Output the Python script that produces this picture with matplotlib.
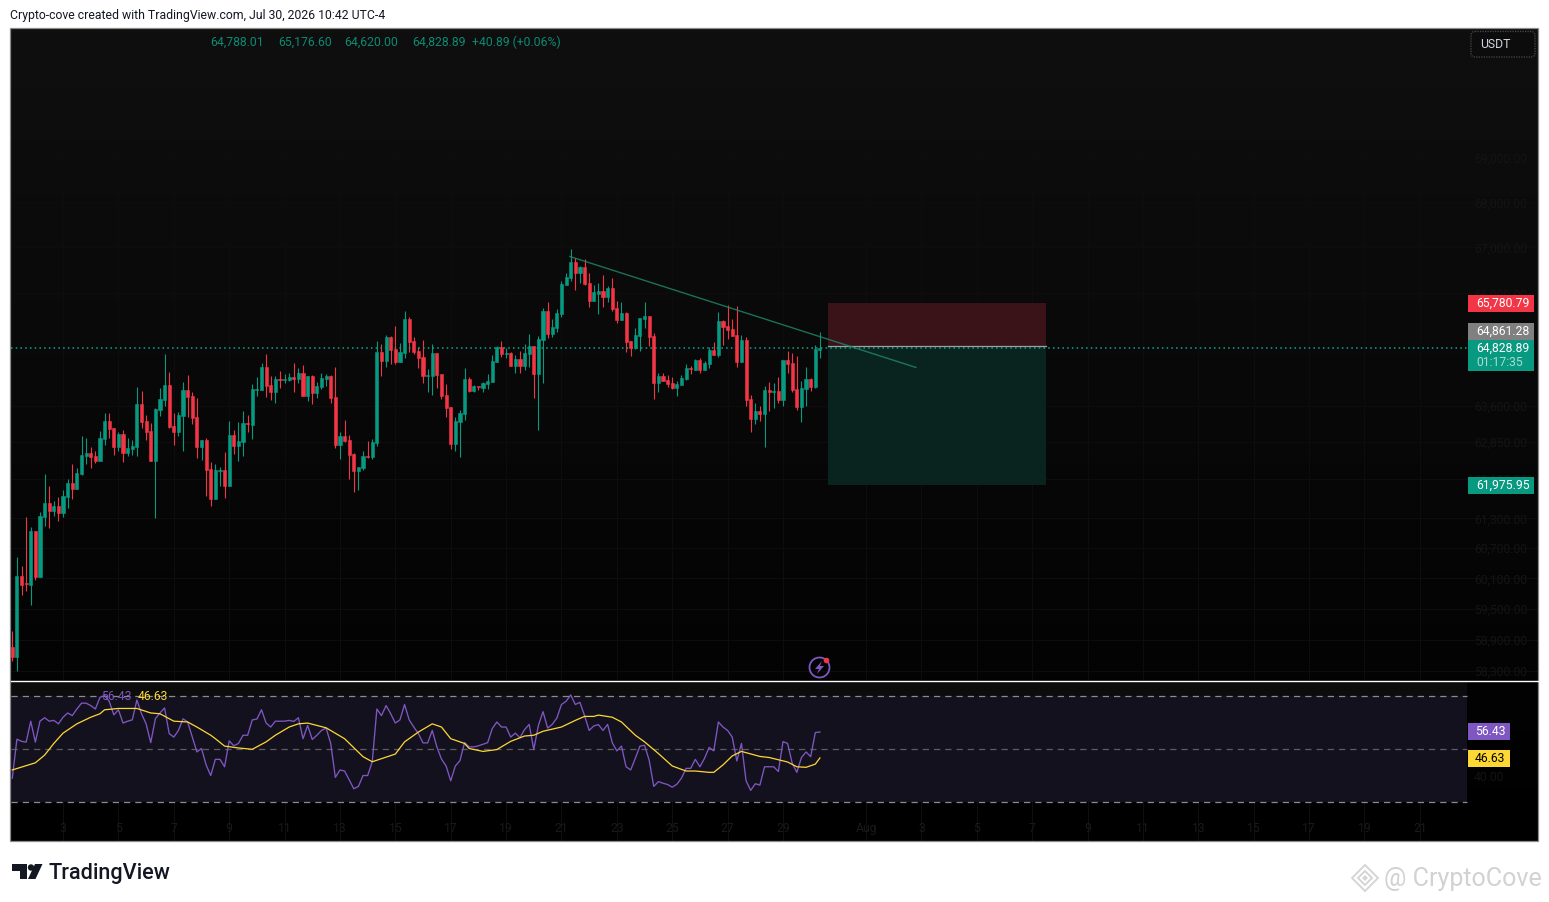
import numpy as np
import matplotlib
matplotlib.use('Agg')
import matplotlib.pyplot as plt
from matplotlib.patches import Rectangle, FancyBboxPatch, Polygon, Circle
from matplotlib.ticker import NullLocator

plt.rcParams['font.family'] = ['Roboto', 'DejaVu Sans']

# 4h candles
opens = [58760,58580,60140,60020,59980,61040,60120,61320,61600,61440,61540,61400,61721,62007,61884,62191,62559,62620,62559,62457,
         62909,63282,63137,62744,63013,62620,62702,62744,63635,63282,63075,62457,63511,63718,64034,63179,63054,63386,63929,63802,
         63365,62744,62888,62293,61680,62253,62273,61946,62992,62764,62847,63241,63200,63929,63929,64413,64034,63886,64160,64139,
         64139,64202,64160,64287,63802,64224,63865,63992,64160,64224,63781,62785,62971,62888,62600,62253,62314,62559,62538,62826,
         64730,64540,65051,64794,64519,64709,65437,64966,64751,64625,64224,64224,64709,64266,63823,63573,62806,63262,63428,64160,
         63908,64013,63971,64055,64097,64519,64837,64688,64709,64435,64582,64435,64688,64858,64266,64987,65609,65115,65244,65544,
         66171,66323,66672,66432,66563,66214,65823,65975,66040,65909,66105,65673,65416,65566,64966,64815,65073,65437,65502,65073,
         64076,64224,64139,64076,63971,64034,64160,64392,64350,64561,64350,64477,64772,64667,65394,65287,65222,65094,64519,64987,
         63739,63324,63490,63428,63929,63886,63908,63718,64561,64498,63950,63573,63950,64160,63992,64788.01]
highs = [59070,60520,60340,61320,61120,61040,61420,62191,61946,61640,61721,61864,62089,62395,62314,62971,62930,62744,62661,63075,
         63448,63448,63137,63054,63096,62930,62888,63992,63908,63407,63241,63552,63971,64688,64308,63448,63469,64097,64245,63886,
         63760,62888,62930,62436,62395,62334,62640,63282,63096,63262,63490,63407,64055,64202,64498,64688,64224,64224,64329,64266,
         64287,64498,64392,64456,64224,64245,64097,64287,64266,64245,64413,63054,63303,62992,62620,62334,62661,62868,62909,64966,
         64901,65094,65073,65287,64923,65609,65480,65051,64837,64987,64371,64901,64709,64266,64055,63573,63365,63511,64392,64202,
         64034,64013,64097,64266,64667,64858,64966,64815,64730,64667,64751,64901,65115,64858,65073,65673,65801,65437,65651,66258,
         66432,66956,66760,66585,66738,66432,66171,66214,66389,66149,66323,65823,65801,65587,64966,65244,65459,65801,65502,65137,
         64287,64287,64245,64202,64118,64245,64477,64435,64582,64603,64540,64837,64944,65587,65416,65737,65437,65716,65094,65051,
         63823,63656,63593,64013,64097,64076,64202,64561,64751,64709,64646,64118,64413,64181,64880,65176.60]
lows = [58490,58310,59770,59860,59570,60080,60120,61140,61100,61340,61240,61320,61500,61680,61884,62171,62395,62314,62416,62457,
        62785,62930,62579,62661,62436,62559,62579,62559,63137,62888,62457,61300,63386,63593,63137,62785,62971,62661,63365,63220,
        62518,62477,61741,61540,61680,61946,61701,61946,62600,62457,62559,63054,62909,63802,63929,63781,63718,63656,63971,64076,
        64118,63886,64076,63802,63697,63635,63760,63950,64013,63656,62723,62497,62847,62089,61823,61864,62273,62518,62497,62764,
        64224,64413,64477,64477,64519,64603,64730,64688,64392,64076,63886,63823,63971,63739,63365,62702,62661,62538,63303,63886,
        63886,63929,63886,63950,64097,64519,64625,64603,64435,64287,64287,64350,64413,63760,63096,64076,65030,65051,65158,65480,
        66171,66258,66062,66214,66171,65694,65823,65544,65694,65801,65609,65351,65416,64730,64646,64794,64751,65244,64858,63739,
        63886,64118,63992,63950,63802,64034,64139,64266,64350,64287,64350,64392,64667,64625,64880,65008,65073,64413,64519,63593,
        63054,63220,63282,62744,63490,63552,63656,63593,64287,63886,63511,63262,63593,63908,63971,64620.00]
closes = [58580,60140,59980,60000,61040,60120,61340,61600,61440,61540,61400,61741,62007,61884,62212,62579,62620,62538,62457,62930,
          63282,63117,62744,63013,62620,62723,62764,63635,63262,63054,62457,63531,63739,64034,63158,63054,63407,63929,63781,63345,
          62744,62888,62273,61680,62273,62273,61946,62992,62764,62868,63241,63220,63950,63950,64413,64013,63886,64160,64139,64160,
          64202,64160,64287,63802,64224,63865,64013,64181,64224,63760,62785,62971,62868,62579,62253,62334,62559,62538,62847,64730,
          64540,65051,64772,64519,64730,65437,64944,64730,64603,64224,64245,64709,64245,63802,63552,62806,63282,63448,64160,63908,
          64013,63992,64076,64118,64540,64837,64688,64709,64435,64582,64435,64709,64858,64266,65008,65609,65115,65265,65566,66193,
          66345,66672,66432,66563,66193,65823,66018,66040,65909,66105,65651,65416,65566,64944,64815,65094,65459,65502,65051,64076,
          64224,64118,64055,63971,64055,64181,64392,64371,64561,64350,64498,64772,64667,65394,65265,65201,65073,64519,64987,63718,
          63324,63490,63428,63929,63886,63908,63718,64561,64477,63929,63573,63971,64160,63992,64794,64828.89]

rsi_values = [39.0,53.7,52.9,52.6,60.5,52.6,60.5,61.8,60.5,60.8,59.5,62.0,63.6,62.6,65.1,67.3,67.3,66.4,65.1,69.5,
              70.2,68.0,62.9,64.8,59.8,60.5,61.0,68.5,63.3,59.5,52.4,61.4,63.6,65.5,55.8,54.5,57.0,61.4,60.2,54.5,
              48.9,50.2,44.0,40.0,46.1,46.1,43.3,53.1,51.2,52.1,55.2,55.2,61.0,61.3,64.8,59.8,58.3,60.5,60.5,60.5,
              60.8,60.4,61.8,53.9,58.9,53.6,55.2,57.0,57.9,52.1,39.3,42.1,41.7,38.4,35.0,35.9,40.0,40.0,45.2,65.1,
              62.6,66.4,63.3,59.8,61.0,66.8,61.0,58.3,55.8,52.3,52.3,57.0,50.8,46.2,43.6,38.0,43.6,45.6,52.4,50.8,
              50.8,51.2,51.8,52.4,57.7,60.2,58.3,58.3,54.5,56.0,54.3,57.3,59.3,49.8,58.9,64.1,57.9,59.3,61.7,66.8,
              68.0,70.4,66.8,67.6,62.6,57.0,58.7,59.2,57.0,59.3,52.4,49.3,51.1,43.3,42.1,46.5,51.1,51.4,45.8,35.9,
              37.7,37.1,36.6,35.6,36.7,39.0,42.7,42.7,46.1,43.3,46.5,50.6,49.3,60.2,58.3,57.0,54.5,45.5,52.1,38.0,
              34.4,36.9,36.4,43.3,43.3,43.3,41.5,52.8,52.1,44.6,41.2,46.8,48.9,47.1,56.2,56.43]

# the yellow moving average, read at its bends
ma_index = [0,5,7,9,11,14,17,19,20,23,27,30,32,35,38,40,43,44,46,49,52,55,57,60,62,64,68,72,76,78,83,85,88,
            91,93,95,98,99,102,105,108,111,113,115,119,122,124,126,127,130,132,135,137,140,143,146,148,151,152,
            154,156,158,162,164,168,170,172,174,175]
ma_values = [42.1,44.8,47.7,52.1,56.0,59.5,62.0,63.3,64.8,65.3,65.3,63.6,63.3,60.5,60.2,58.3,55.2,53.9,51.1,50.4,49.9,52.7,55.2,58.3,59.5,59.8,58.0,53.9,47.1,45.2,48.1,52.7,56.4,
             59.5,58.3,53.9,52.1,50.2,49.1,49.8,52.9,54.9,55.2,56.7,58.3,60.8,62.3,62.3,62.8,62.0,60.2,55.2,52.7,48.3,43.6,41.7,41.7,41.2,41.2,
             44.0,47.4,49.1,47.2,46.8,45.1,43.3,43.1,44.3,46.63]

stop_price = 65780.79
entry_price = 64861.28
target_price = 61975.95
last_price = 64828.89

price_ticks = [69000,68000,67000,66000,63600,62850,62100,61300,60700,60100,59500,58900,58300]
date_ticks = [11,23,35,47,59,71,83,95,107,119,131,143,155,167,185,197,209,221,233,245,257,269,281,293,305]
date_labels = ['3','5','7','9','11','13','15','17','19','21','23','25','27','29','Aug','3','5','7','9','11','13','15','17','19','21']

UP = '#089981'
DOWN = '#f23645'
FAINT = '#141414'
W, H = 1549, 902
X0, X1 = 11, 1538

fig = plt.figure(figsize=(W/100, H/100), dpi=100, facecolor='white')

def pane(top, bottom):
    return [X0/W, (H-bottom)/H, (X1-X0)/W, (bottom-top)/H]

# background gradient
bg = fig.add_axes(pane(28, 841))
grad = np.linspace(15, 0, 256).reshape(-1, 1)
bg.imshow(grad, aspect='auto', cmap='gray', vmin=0, vmax=255, interpolation='bilinear')
bg.axis('off')

ax = fig.add_axes(pane(28, 680), facecolor='none')
xlim = (-0.28, 330.6)
idx = np.arange(len(closes))
o, h, l, c = map(np.array, (opens, highs, lows, closes))
col = np.where(c >= o, UP, DOWN)

ax.vlines(idx, l, h, colors=col, linewidth=0.8, zorder=3)
ax.bar(idx, np.abs(c-o), bottom=np.minimum(o, c), width=0.68, color=col, linewidth=0.4, edgecolor=col, zorder=4)

ax.set_yscale('log')
ax.set_xlim(*xlim)
ax.set_ylim(58130, 72007)
ax.yaxis.tick_right()
ax.set_yticks(price_ticks, [f'{p:,.2f}' for p in price_ticks])
ax.yaxis.set_minor_locator(NullLocator())
ax.tick_params(axis='y', length=0, pad=-46, labelsize=8.7, labelcolor=FAINT)
ax.set_xticks(date_ticks, [''] * len(date_ticks))
ax.tick_params(axis='x', length=0)
ax.grid(True, color='#0e0e0e', linewidth=0.7, zorder=0)
ax.set_axisbelow(True)
for s in ax.spines.values():
    s.set_visible(False)

# long/short position box
box_l, box_r = 176.75, 224
ax.fill_between([box_l, box_r], entry_price, stop_price, color='#3a1318', linewidth=0, zorder=2)
ax.fill_between([box_l, box_r], target_price, entry_price, color='#09241f', linewidth=0, zorder=2)
ax.plot([box_l, box_r], [entry_price, entry_price], color='#a0a0a0', linewidth=0.9, zorder=5)

# trend line and last price
ax.plot([120.8, 195.8], [66803, 64413], color='#1f8a6c', alpha=0.8, linewidth=1.0, zorder=6)
ax.plot([xlim[0], 315.2], [last_price, last_price], color='#0aa88e', linewidth=1.1, linestyle=(0, (1, 2.1)), zorder=3)

# RSI pane
rs = fig.add_axes(pane(681, 841), facecolor='none')
rs.set_xlim(*xlim)
rs.set_ylim(15.3, 75.66)
rs.fill_between([xlim[0], 315.2], 30, 70, color='#14111e', linewidth=0, zorder=1)
rs.fill_between([xlim[0], 315.2], 70, 75.66, color='#0c0c0c', linewidth=0, zorder=1)
for lev, shade in ((70, '#8a8a90'), (50, '#5c5c64'), (30, '#8a8a90')):
    rs.plot([xlim[0], 315.2], [lev, lev], color=shade, linewidth=0.9, linestyle=(0, (5, 4)), zorder=2)
rs.plot(idx, rsi_values, color='#7e57c2', linewidth=0.95, zorder=4)
rs.plot(ma_index, ma_values, color='#fdd835', linewidth=0.9, zorder=5)
rs.yaxis.tick_right()
rs.set_yticks([40], ['40.00'])
rs.tick_params(axis='y', length=0, pad=-46, labelsize=8.7, labelcolor=FAINT)
rs.set_xticks(date_ticks, date_labels)
rs.tick_params(axis='x', length=0, pad=-13.7, labelsize=8.7, labelcolor='#1a1a1a')
rs.grid(True, axis='x', color='#101010', linewidth=0.7)
rs.set_axisbelow(True)
for s in rs.spines.values():
    s.set_visible(False)

# overlay in pixels for labels and chrome
ov = fig.add_axes([0, 0, 1, 1], facecolor='none')
ov.set_xlim(0, W)
ov.set_ylim(H, 0)
ov.axis('off')

ov.add_patch(Rectangle((X0-0.5, 27.5), X1-X0+1, 841-27.5, fill=False, edgecolor='#8a8a8a', linewidth=0.9))
ov.plot([X0, X1], [680.8, 680.8], color='white', linewidth=1.0)

ov.text(10, 15, 'Crypto-cove created with TradingView.com, Jul 30, 2026 10:42 UTC-4', fontsize=8.8, color='#131722', va='center')

for x, t in [(210, '64,788.01'), (278, '65,176.60'), (344.5, '64,620.00'), (412, '64,828.89'), (472, '+40.89 (+0.06%)')]:
    ov.text(x, 42, t, fontsize=8.8, color='#0c8a72', va='center')

ov.text(101, 696, '56.43', fontsize=8.7, color='#7e57c2', va='center')
ov.text(138, 696, '46.63', fontsize=8.7, color='#fdd835', va='center')

ov.add_patch(FancyBboxPatch((1471, 31.5), 64, 25.5, boxstyle='round,pad=0,rounding_size=4', facecolor='#0c0c0c', edgecolor='#4a4a4a', linewidth=0.9, linestyle=(0, (1, 1))))
ov.text(1480, 45, 'USDT', fontsize=8.8, color='#d1d4dc', va='center')

def tag(x0, x1, y0, y1, color):
    ov.add_patch(Rectangle((x0, y0), x1-x0, y1-y0, facecolor=color, edgecolor='none', zorder=8))

tag(1468, 1534, 295, 312, DOWN)
tag(1468, 1534, 323, 340, '#808080')
tag(1468, 1534, 340, 371, UP)
tag(1468, 1534, 477, 494, UP)
tag(1468, 1510.5, 723, 740, '#7e57c2')
tag(1468, 1510.5, 750, 767, '#fdd835')
for y, t, colr in [(303.5, '65,780.79', 'white'), (331, '64,861.28', 'white'), (348, '64,828.89', 'white'),
                   (362, '01:17:35', '#a9dcd2'), (485, '61,975.95', 'white')]:
    ov.text(1476, y, t, fontsize=8.7, color=colr, va='center', zorder=9)
ov.text(1475, 731.5, '56.43', fontsize=8.7, color='white', va='center', zorder=9)
ov.text(1475, 758.5, '46.63', fontsize=8.7, color='black', va='center', zorder=9)

# lightning badge
ov.add_patch(Circle((819.5, 667.5), 10, fill=False, edgecolor='#7e57c2', linewidth=1.3))
ov.add_patch(Polygon([(822, 661), (815, 669), (819, 669), (817, 674), (824, 666), (820, 666)], facecolor='#7e57c2', edgecolor='none'))
ov.add_patch(Circle((826.5, 660.5), 2.8, facecolor=DOWN, edgecolor='none'))

# TradingView logo
ov.add_patch(Polygon([(12, 864), (27, 864), (27, 879), (20, 879), (20, 870.5), (12, 870.5)], facecolor='#131722', edgecolor='none'))
ov.add_patch(Circle((31, 867.5), 3.2, facecolor='#131722', edgecolor='none'))
ov.add_patch(Polygon([(35, 864), (42.5, 864), (35.5, 879), (28, 879)], facecolor='#131722', edgecolor='none'))
ov.text(48.5, 873, 'TradingView', fontsize=15.6, fontweight='medium', color='#131722', va='center')

# CryptoCove watermark
for cx, cy, r in [(1365, 878, 13), (1365, 878, 7)]:
    ov.add_patch(Polygon([(cx, cy-r), (cx+r, cy), (cx, cy+r), (cx-r, cy)], fill=False, edgecolor='#d5d5d5', linewidth=1.4))
ov.add_patch(Polygon([(1365, 875), (1368, 878), (1365, 881), (1362, 878)], facecolor='#d5d5d5', edgecolor='none'))
ov.text(1384, 879, '@ CryptoCove', fontsize=18, color='#d2d2d2', va='center')

fig.savefig('out.png', dpi=100)
